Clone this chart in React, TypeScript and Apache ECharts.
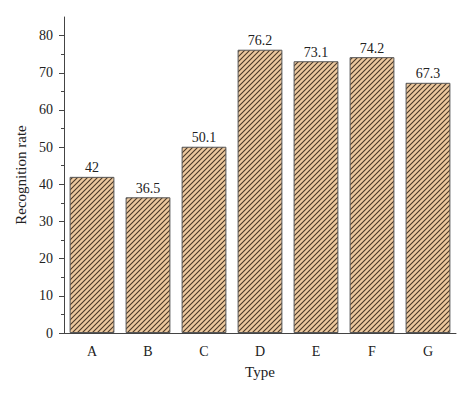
import React, { useEffect, useRef } from "react";
import * as echarts from "echarts";

const categories = ["A", "B", "C", "D", "E", "F", "G"];
const values = [42, 36.5, 50.1, 76.2, 73.1, 74.2, 67.3];
const majorTicks = [0, 10, 20, 30, 40, 50, 60, 70, 80];
const minorTicks = [5, 15, 25, 35, 45, 55, 65, 75];
const yMax = 85;

const FONT = "'Liberation Serif', 'Times New Roman', serif";
const AXIS = "#444";
const TEXT = "#222";

const hatchSvg =
  "<svg xmlns='http://www.w3.org/2000/svg' width='5' height='5'>" +
  "<rect width='5' height='5' fill='#ECC89E'/>" +
  "<path d='M-1,1 L1,-1 M0,5 L5,0 M4,6 L6,4' stroke='#4a3826' stroke-width='1.1'/>" +
  "</svg>";
const hatchUrl = "data:image/svg+xml;charset=utf-8," + encodeURIComponent(hatchSvg);

export default function App() {
  const ref = useRef<HTMLDivElement>(null);
  useEffect(() => {
    if (!ref.current) return;
    const chart = echarts.init(ref.current, undefined, { renderer: "svg" });
    chart.setOption({
      animation: false,
      backgroundColor: "#fff",
      grid: { left: 64, right: 18, top: 17, bottom: 65 },
      xAxis: [
        {
          type: "category",
          data: categories,
          name: "Type",
          nameLocation: "middle",
          nameGap: 31,
          nameTextStyle: { fontFamily: FONT, fontSize: 15, color: TEXT },
          axisLine: { lineStyle: { color: AXIS, width: 1 } },
          axisTick: { alignWithLabel: true, length: 5, lineStyle: { color: AXIS } },
          axisLabel: { fontFamily: FONT, fontSize: 14, color: TEXT, margin: 11 },
        },
        {
          type: "category",
          data: categories,
          position: "bottom",
          axisLine: { show: false },
          axisTick: { alignWithLabel: false, length: 3, lineStyle: { color: AXIS } },
          axisLabel: { show: false },
        },
      ],
      yAxis: [
        {
          type: "value",
          min: 0,
          max: yMax,
          interval: 5,
          name: "Recognition rate",
          nameLocation: "middle",
          nameGap: 35,
          nameTextStyle: { fontFamily: FONT, fontSize: 15, color: TEXT },
          axisLine: { show: true, lineStyle: { color: AXIS, width: 1 } },
          axisTick: { show: true, length: 5, customValues: majorTicks, lineStyle: { color: AXIS } },
          axisLabel: { fontFamily: FONT, fontSize: 14, color: TEXT, margin: 11, customValues: majorTicks },
          splitLine: { show: false },
        },
        {
          type: "value",
          min: 0,
          max: yMax,
          interval: 5,
          position: "left",
          axisLine: { show: false },
          axisTick: { show: true, length: 3, customValues: minorTicks, lineStyle: { color: AXIS } },
          axisLabel: { show: false },
          splitLine: { show: false },
        },
      ],
      series: [
        {
          type: "bar",
          data: values,
          barCategoryGap: "20%",
          itemStyle: {
            color: { image: hatchUrl, repeat: "repeat", imageWidth: 5, imageHeight: 5 },
            borderColor: "#555",
            borderWidth: 1,
          },
          label: {
            show: true,
            position: "top",
            distance: 2,
            fontFamily: FONT,
            fontSize: 14,
            color: TEXT,
          },
        },
      ],
    });
    return () => chart.dispose();
  }, []);
  return <div ref={ref} style={{ width: 474, height: 398, margin: -8 }} />;
}
